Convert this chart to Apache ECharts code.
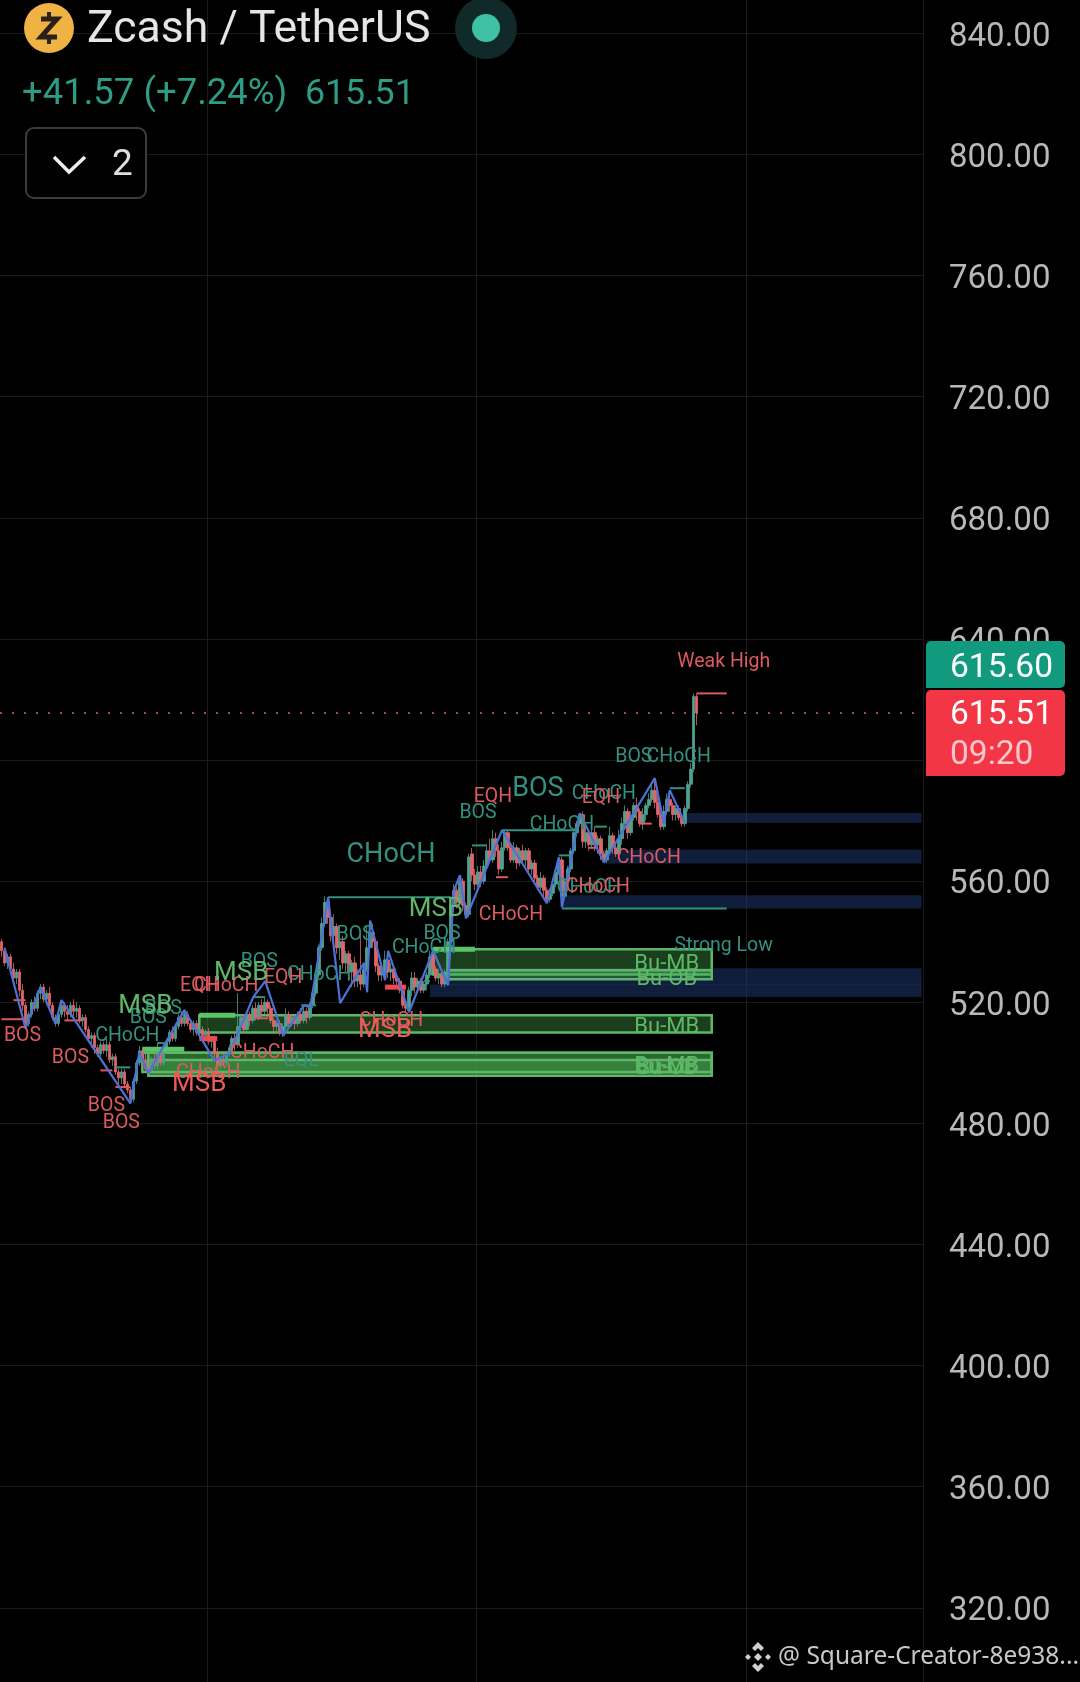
<!DOCTYPE html>
<html><head><meta charset="utf-8">
<style>html,body{margin:0;padding:0;background:#000}#c{width:1080px;height:1682px}</style>
<script src="https://cdn.jsdelivr.net/npm/echarts@6/dist/echarts.min.js"></script>
</head><body><div id="c"></div>
<script>
// [open, close, low, high] per bar
const candles = [
[540,537,535,541],[537,533,532,538],[533,535,531,536],[535,531,530,536],[531,528,526,533],[528,530,526,531],[530,524,522,531],[524,519,517,526],[519,513,511,520],[513,516,512,517],
[516,520,515,521],[520,518,517,522],[518,523,517,524],[523,525,521,526],[525,521,520,526],[521,523,519,524],[523,519,518,525],[519,515,514,520],[515,513,512,516],[513,516,512,517],
[516,519,515,520.5],[519,517,515,520],[517,516,514,519],[516,519,515,520],[519,517,515,521],[517,518,515,520],[518,514,513,519],[514,515,512,516],[515,511,510,516],[511,508,507,512],
[508,509,505,510],[509,505,503,510],[505,503,502,506],[503,506,502,507],[506,504,503,507],[504,506,502,508],[506,501,500,507],[501,502,499,503],[502,497,496,503],[497,495,493,498],
[495,497,493,498],[497,493,492,498],[493,491,490,494],[491,488,486.5,492],[488,494,487,495],[494,500,493,501],[500,504,499,505.5],[504,501,499,505],[501,498,497,503],[498,497.5,496,500],
[497.5,501,497,502],[501,499,498,503],[499,503,498,506.5],[503,500,499,504],[500,504,499,505],[504,507,503,508],[507,510,506,511],[510,508,507,512],[508,512,507,513],[512,515,511,516],
[515,513,512,517],[513,516,512,517.5],[516,513,512,517],[513,511,510,514],[511,513,509,514],[513,510,509,514],[510,511,508,512.5],[511,509,508,512],[509,510,507,511],[510,507,506,511.5],
[507,508,505,509],[508,503,501,509],[503,499,497,505],[499,501,498,502],[501,500,499,503],[500,503,499,504],[503,505,502,506],[505,508,504,509],[508,506,504,510],[506,512,505,523],
[512,515,510,516],[515,511,510,516],[511,516,510,517],[516,514,512,517],[514,518,513,519],[518,515,514,520],[515,519,514,520],[519,517,515,521],[517,520,516,521.7],[520,518,515,521],
[518,514,513,519],[514,512,510,515],[512,513,510,514],[513,510,509,514],[510,512,508.5,513],[512,516,511,518],[516,513,512,517],[513,515,512,516],[515,513,511,516],[513,516,512,517],
[516,514,513,518],[514,517,513,518.5],[517,515,513,518],[515,519,514,520],[519,523,518,524],[523,529,522,530],[529,538,528,539],[538,546,537,548],[546,553,545,555],[553,548,546,554.7],
[548,542,540,550],[542,545,539,549],[545,538,536,546],[538,540,534,541],[540,533,531,542],[533,536,530,537],[536,530,527,537],[530,533,525,534],[533,527,525,535],[527,529,525,531],
[529,526,524,543],[526,531,525,532],[531,538,530,545],[538,543,536,545],[543,540,538,546],[540,532,530,541],[532,529,527,533],[529,530,527,531],[530,534,528,537],[534,530,528,536],
[530,531,527,533],[531,528,526,532],[528,527,525,529],[527,524,523,528],[524,519,518,525],[519,518,516.7,520],[518,524,517,525],[524,528,522,530],[528,525,523,530],[525,527,523,528],
[527,524,523,528],[524,526,523,527],[526,529,524,530],[529,535,528,537],[535,531,530,537],[531,528,527,532],[528,529,526,531],[529,526,525,530],[526,530,525,531],[530,540,529,541],
[540,552,539,553],[552,557,550,559],[557,553,551,558],[553,560,552,562],[560,552,550,561],[552,549,548,553],[549,568,548,569],[569,562,560,571],[562,559,557,564],[559,563,558,565],
[563,560,558,565],[560,565,559,567],[565,570,564,572],[570,567,566,574],[567,574,566,576.8],[574,570,568,576],[570,564,562,572],[564,571,563,573],[571,576,570,577],[576,571,570,577],
[571,567,566,572],[567,571,566,573],[571,566,564,572],[566,570,565,571],[570,567,566,572],[567,570,565,571],[570,564,562,571],[564,566,562,567],[566,561,560,567],[561,558,557,562],
[558,561,557,563],[561,557,555,562],[557,554,552.7,558],[554,556,553,557.5],[556,559,555,560],[559,563,558,564],[563,567,562,568],[567,555,553.7,568],[555,560,554,561],[560,564,559,565],
[564,570,563,571],[570,576,569,577],[576,579,575,580],[579,582,578,582.4],[582,573,571,583],[573,576,571,578],[576,572,570,577],[572,576,571,578],[576,572,570,578],[572,574,569,575],
[574,569,567,575],[569,567,566.2,570],[567,570,566,571],[570,575,569,578],[575,571,569,576],[571,569,568,572],[569,574,568,577],[574,579,572,581],[579,583,577,585],[583,576,574,584],
[576,581,575,583],[581,585,580,586],[585,583,580,587.7],[583,579,578,584],[579,582,577,584],[582,585,580,586],[585,587,584,589],[587,590,586,592],[590,586,584,593.5],[586,582,581,588],
[582,578,577,583],[578,583,577,585],[583,587,582,589],[587,585,583,590],[585,582,580,586],[582,584,580,585],[584,581,580,585],[581,579,578,582],[579,584,578,585],[584,592,583,593],
[592,597,591,599],[597,621,596,622],[621,615.51,611.5,622]
];
// swing line: [bar, price]
const swings = [[1,538],[8,511.4],[13,525],[18,513],[20,520.7],[43,486.6],[46,503.5],[49,496.6],[61,517.4],[71,500.8],[76,503],[84,521.7],[88,527],[94,509],[101,519],[103,518.3],[109,554.7],[113,519.7],[121,533],[122,523.3],[123,547],[128,527.3],[129,537],[136,516.7],[144,537],[149,525.6],[151,557],[153,562],[155,547.7],[167,576.8],[182,552.7],[186,567.9],[187,551.4],[193,582.4],[201,566.2],[218,594],[221,579],[223,590],[228,579.4]];
// structure levels: [startBar, endBar, price]
const tealLevels = [[109,150,554.7],[167,192,576.8],[157,162,571.8],[186,190,568.5],[198,202,578],[187,242,551],[38,43,498.5],[141,143,527],[100,105,519],[223,228,590.7],[84,88,521.7],[52,55,506.5]];
const redLevels = [[0,7,514.4],[4,8,520.7],[21,27,514],[33,37,497.5],[38,43,492],[85,89,514.7],[165,169,561.3],[196,199,571],[213,217,579],[232,242,622]];
const heavyRedLevels = [[66,72,508],[128,135,525]];
const heavyGreenLevels = [[47,61,504.5],[144,158,537.5],[66,78,515.7]];
// zones: [startBar, endBar, top, bottom]
const navyZones = [[228,307,582.5,579.3],[201,307,570.4,565.8],[187,307,555.3,551],[149,307,531.2,525.6],[143,307,525.9,521.7]];
const greenZones = [[144,237,537.5,529.2],[149,237,530.6,527.6],[66,237,515.7,510],[47,237,503.3,497],[49,237,503.3,495.7],[49,237,500.9,496.9]];
// labels: [text, bar, price]
const redSmallLabels = [['BOS',7,509.8],['BOS',23,502.5],['BOS',35,486.6],['BOS',40,481],['CHoCH',69,497.5],['CHoCH',87,504.1],['EQH',66,526.3],['CHoCH',75,526.3],['EQH',94,528.9],['CHoCH',130,514.7],['EQH',164,588.7],['CHoCH',170,549.7],['CHoCH',199,559],['CHoCH',216,568.5],['EQH',200,588.4],['Weak High',241,633.3]];
const tealSmallLabels = [['CHoCH',42,509.8],['BOS',49,515.7],['BOS',54,518.7],['EQL',100,501.5],['BOS',86,534.2],['CHoCH',106,529.9],['BOS',118,543.1],['CHoCH',141,538.8],['BOS',147,543.4],['BOS',159,583.4],['CHoCH',187,579.4],['CHoCH',196,558.4],['CHoCH',201,589.7],['BOS',211,601.9],['CHoCH',226,601.9],['Strong Low',241,539.2]];
const tealLargeLabels = [['CHoCH',130,569.5],['BOS',179,591.3]];
const greenLargeLabels = [['MSB',48,519.3],['MSB',80,530.2],['MSB',145,551.4]];
const redLargeLabels = [['MSB',66,493.6],['MSB',128,511.4]];
const zoneLabels = [['Bu-MB',222,533.2],['Bu-OB',222,528.3],['Bu-MB',222,512.4],['Bu-MB',222,499.5],['Bu-OB',222,499]];
const priceTicks = {min:280,max:880,step:40};
const lastPrice = 615.51, askPrice = '615.60', lastText = '615.51', countdown = '09:20';
const barSlots = Array.from({length:308},(_,i)=>String(i));

const RED='#dc5a60', TEAL='#339180', GREEN='#5fb868', FONT='Roboto, sans-serif';

function zoneSeries(rows, fill, stroke, z){
  return {type:'custom',z,silent:true,data:rows,encode:{x:[0,1],y:[2,3]},clip:true,
    renderItem(p,api){
      const a=api.coord([api.value(0),api.value(2)]), b=api.coord([api.value(1),api.value(3)]);
      return {type:'rect',shape:{x:a[0],y:a[1],width:b[0]-a[0],height:b[1]-a[1]},
        style:{fill,stroke:stroke||null,lineWidth:stroke?2.5:0}};
    }};
}
function levelSeries(rows,color,width,z){
  return {type:'custom',z,silent:true,data:rows,encode:{x:[0,1],y:2},
    renderItem(p,api){
      const a=api.coord([api.value(0),api.value(2)]), b=api.coord([api.value(1),api.value(2)]);
      return {type:'line',shape:{x1:a[0],y1:a[1],x2:b[0],y2:b[1]},style:{stroke:color,lineWidth:width}};
    }};
}
function labelSeries(rows,color,size,z){
  return {type:'custom',z,silent:true,data:rows.map(r=>[r[1],r[2]]),encode:{x:0,y:1},
    renderItem(p,api){
      const a=api.coord([api.value(0),api.value(1)]);
      return {type:'text',style:{text:rows[p.dataIndex][0],x:a[0],y:a[1]+2.5,fill:color,
        font:size+'px '+FONT,align:'center',verticalAlign:'middle'}};
    }};
}
const txt=(text,x,y,size,fill,extra)=>({type:'text',z:50,style:Object.assign({text,x,y,fill,font:size+'px '+FONT,verticalAlign:'middle',align:'left'},extra||{})});

const chart=echarts.init(document.getElementById('c'));
chart.setOption({
  animation:false,backgroundColor:'#000',
  grid:{left:0,top:33.3-121.12,width:923,height:600*3.028,outerBoundsMode:'none',containLabel:false},
  xAxis:{type:'category',data:barSlots,boundaryGap:true,
    axisLine:{show:false},axisTick:{show:false},axisLabel:{show:false},
    splitLine:{show:true,interval:i=>i%90===69,lineStyle:{color:'#1a1a1a',width:1}}},
  yAxis:{type:'value',position:'right',min:priceTicks.min,max:priceTicks.max,interval:priceTicks.step,
    axisLine:{show:false},axisTick:{show:false},
    splitLine:{show:true,lineStyle:{color:'#1a1a1a',width:1}},
    axisLabel:{color:'#b8b8b8',fontSize:33,fontFamily:'Roboto',margin:26,align:'left',
      formatter:v=>(v===priceTicks.min||v===priceTicks.max)?'':'{p|'+v.toFixed(2)+'}',
      rich:{p:{color:'#b8b8b8',fontSize:33,fontFamily:'Roboto',padding:[8,0,0,0]}}}},
  series:[
    zoneSeries(navyZones,'rgba(32,60,120,0.5)',null,2),
    zoneSeries(greenZones,'rgba(76,175,80,0.36)','#5cb868',3),
    {type:'candlestick',z:5,data:candles,barWidth:3,silent:true,
      itemStyle:{color:'#4fa090',color0:'#e0656b',borderColor:'#4fa090',borderColor0:'#e0656b',borderWidth:0.8},
      markLine:{silent:true,symbol:'none',label:{show:false},
        lineStyle:{color:'#e8606a',type:[2,10],width:1.5},data:[{yAxis:lastPrice}]}},
    levelSeries(tealLevels,TEAL,2,6),
    levelSeries(redLevels,RED,2,6),
    levelSeries(heavyRedLevels,'#ee4b50',5,6),
    levelSeries(heavyGreenLevels,'#5cc464',5,6),
    {type:'line',z:7,data:swings,showSymbol:false,silent:true,lineStyle:{color:'#4c72d6',width:2.2},itemStyle:{color:'#4c72d6'}},
    labelSeries(tealSmallLabels,TEAL,19.5,8),
    labelSeries(tealLargeLabels,TEAL,27,8),
    labelSeries(redSmallLabels,RED,19.5,9),
    labelSeries(redLargeLabels,'#ee5a5a',26,9),
    labelSeries(greenLargeLabels,GREEN,26,10),
    labelSeries(zoneLabels,GREEN,22,10)
  ],
  graphic:[
    {type:'circle',z:50,shape:{cx:49,cy:28,r:25},style:{fill:'#efb344'}},
    {type:'polyline',z:51,shape:{points:[[41,19],[57,19],[41,37],[57,37]]},style:{stroke:'#2a2018',lineWidth:5,fill:null}},
    {type:'line',z:51,shape:{x1:49,y1:12,x2:49,y2:19},style:{stroke:'#2a2018',lineWidth:4}},
    {type:'line',z:51,shape:{x1:49,y1:37,x2:49,y2:44},style:{stroke:'#2a2018',lineWidth:4}},
    txt('Zcash / TetherUS',87,31,44.6,'#e6e6e6'),
    {type:'circle',z:50,shape:{cx:486,cy:28,r:31},style:{fill:'#0f2a28'}},
    {type:'circle',z:51,shape:{cx:486,cy:28,r:14},style:{fill:'#3fc1a5'}},
    txt('+41.57 (+7.24%)',22,95,36.5,'#2f9c86'),
    txt('615.51',305,95,35.7,'#2f9c86'),
    {type:'rect',z:50,shape:{x:26,y:128,width:120,height:70,r:8},style:{fill:'#000',stroke:'#3c3c3c',lineWidth:2}},
    {type:'polyline',z:51,shape:{points:[[54,157],[69,172],[85,157]]},style:{stroke:'#eee',lineWidth:3.5,fill:null}},
    txt('2',112,166,37,'#dedede'),
    {type:'rect',z:50,shape:{x:926,y:641,width:139,height:47,r:[5,5,5,0]},style:{fill:'#129a7f'}},
    txt(askPrice,950,669,33.5,'#fff'),
    {type:'rect',z:50,shape:{x:926,y:690,width:139,height:86,r:[5,5,5,0]},style:{fill:'#f23645'}},
    txt(lastText,950,716,33.5,'#fff'),
    txt(countdown,950,756,33.5,'#f9c6cb'),
    {type:'polygon',z:50,shape:{points:[[758,1642],[764,1648],[761,1651],[758,1648],[755,1651],[752,1648]]},style:{fill:'#d0d0d0'}},
    {type:'polygon',z:50,shape:{points:[[758,1672],[764,1666],[761,1663],[758,1666],[755,1663],[752,1666]]},style:{fill:'#d0d0d0'}},
    {type:'polygon',z:50,shape:{points:[[758,1653],[762,1657],[758,1661],[754,1657]]},style:{fill:'#d0d0d0'}},
    {type:'polygon',z:50,shape:{points:[[748,1654],[751,1657],[748,1660],[745,1657]]},style:{fill:'#d0d0d0'}},
    {type:'polygon',z:50,shape:{points:[[768,1654],[771,1657],[768,1660],[765,1657]]},style:{fill:'#d0d0d0'}},
    {type:'text',z:50,style:{text:'@ Square-Creator-8e938...',x:778,y:1657,fill:'#c8c8c8',font:'24.5px "Noto Sans", sans-serif',verticalAlign:'middle',align:'left'}}
  ]
});
</script></body></html>
